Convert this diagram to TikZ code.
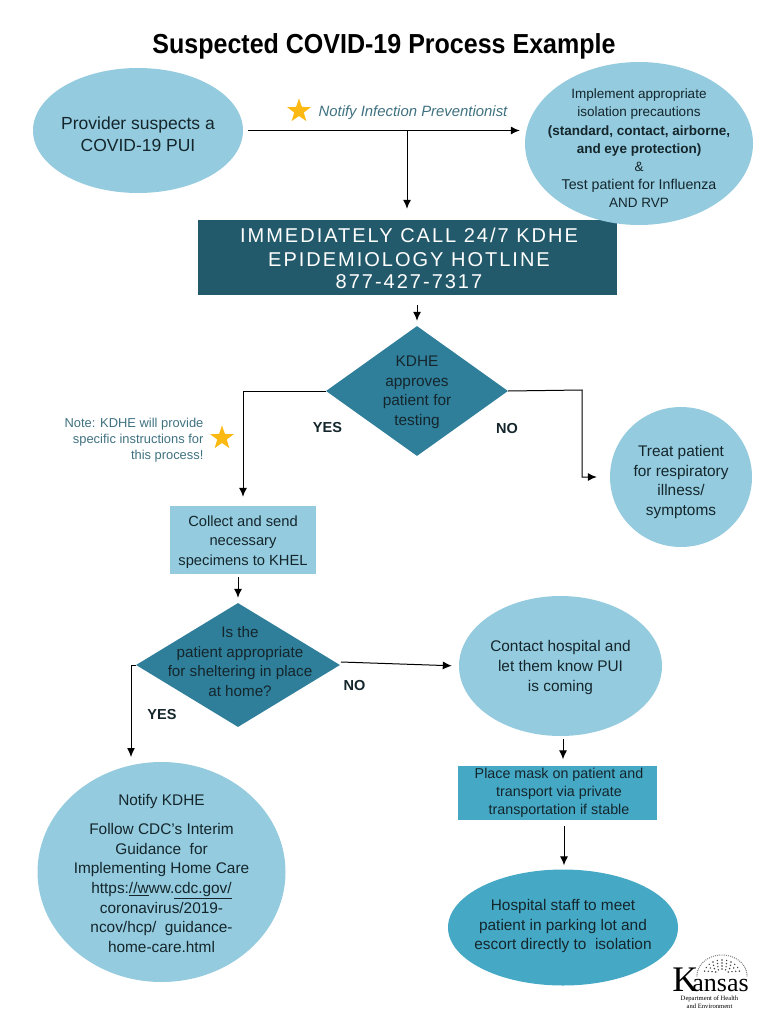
\documentclass[tikz,border=0pt]{standalone}
\usepackage{fontspec}
\setmainfont{Liberation Sans}
\newfontfamily\logofont{Liberation Serif}
\newfontfamily\condfont[FakeStretch=0.91]{Liberation Sans}
\usetikzlibrary{shapes.geometric,arrows.meta}
\definecolor{paleblue}{HTML}{94CBDE}
\definecolor{midblue}{HTML}{45A9C6}
\definecolor{tealdiam}{HTML}{2F7F9B}
\definecolor{hotline}{HTML}{235A6B}
\definecolor{notetext}{HTML}{3F7180}
\definecolor{ink}{HTML}{14262C}
\definecolor{stargold}{HTML}{FDB913}
\newcommand{\fs}[2]{\fontsize{#1}{#2}\selectfont}
\begin{document}
\begin{tikzpicture}[x=1pt,y=-1pt,
    every label/.style={align=center,text=ink},
    bubble/.style={ellipse,fill=paleblue,inner sep=0pt},
    block/.style={rectangle,fill=paleblue,inner sep=0pt},
    decide/.style={diamond,fill=tealdiam,inner sep=0pt},
    goldstar/.style={star,star points=5,star point ratio=2.5,fill=stargold,inner sep=0pt,minimum size=25},
    answer/.style={font=\fs{14.5}{17}\bfseries,text=ink},
    link/.style={-{Latex[length=9pt,width=8pt]},black,line width=1pt}]
    \useasboundingbox (0,0) rectangle (768,1024);

    \node (0) at (384,46) [font=\condfont\fs{27.5}{30}\bfseries,text=black]{Suspected COVID-19 Process Example};

    \node (3) at (407.5,257.5) [block,fill=hotline,minimum width=419,minimum height=75,
        label={[text=white,xshift=1.5pt,yshift=-0.5pt,font=\fs{20}{24}\addfontfeature{LetterSpace=10}]center:{IMMEDIATELY CALL 24/7 KDHE\\EPIDEMIOLOGY HOTLINE\\[-2pt]877-427-7317}}]{};
    \node (1) at (138,130.5) [bubble,minimum width=210,minimum height=125,
        label={[yshift=-3.5pt,font=\fs{17.5}{22}]center:{Provider suspects a\\COVID-19 PUI}}]{};
    \node (2) at (639,143.5) [bubble,minimum width=228,minimum height=163,
        label={[yshift=-5pt,font=\fs{13.5}{18.2}]center:{Implement appropriate\\isolation precautions\\{\bfseries(standard, contact, airborne,}\\{\bfseries and eye protection)}\\\&\\\fs{14.2}{18.2}Test patient for Influenza\\AND RVP}}]{};

    \node (s1) at (299,111) [goldstar]{};
    \node (n1) at (413,112.5) [font=\fs{14.9}{17}\itshape,text=notetext]{Notify Infection Preventionist};

    \node (4) at (417,391) [decide,minimum width=182,minimum height=130,
        label={[yshift=-1.5pt,font=\fs{15.4}{19.5}]center:{KDHE\\approves\\patient for\\testing}}]{};
    \node (y1) at (327.5,428) [answer]{YES};
    \node (m1) at (507,429) [answer]{NO};
    \node (n2) at (134,440) [font=\fs{12.9}{16},text=notetext,align=right,inner sep=0pt]{Note: KDHE will provide\\specific instructions for\\this process!};
    \node (s2) at (222,438) [goldstar]{};

    \node (5) at (681,477) [bubble,minimum width=142,minimum height=140,
        label={[yshift=-5pt,font=\fs{15.4}{19.7}]center:{Treat patient\\for respiratory\\illness/\\symptoms}}]{};
    \node (6) at (243,540) [block,minimum width=146,minimum height=68,
        label={[yshift=-2pt,font=\fs{14.7}{19.5}]center:{Collect and send\\necessary\\specimens to KHEL}}]{};

    \node (7) at (238,665) [decide,minimum width=204,minimum height=124,
        label={[xshift=2pt,yshift=3.5pt,font=\fs{15.2}{19.5}]center:{Is the\\patient appropriate\\for sheltering in place\\at home?}}]{};
    \node (y2) at (162,715) [answer]{YES};
    \node (m2) at (354.5,686) [answer]{NO};

    \node (8) at (560.5,666) [bubble,minimum width=203,minimum height=140,
        label={[yshift=-2pt,font=\fs{15.4}{20}]center:{Contact hospital and\\let them know PUI\\is coming}}]{};
    \node (9) at (557.5,792.5) [block,fill=midblue,minimum width=199,minimum height=54,
        label={[xshift=1.5pt,font=\fs{14.3}{18}]center:{Place mask on patient and\\transport via private\\transportation if stable}}]{};
    \node (10) at (563,927.5) [bubble,fill=midblue,minimum width=230,minimum height=116,
        label={[yshift=1pt,font=\fs{15.4}{19.5}]center:{Hospital staff to meet\\patient in parking lot and\\escort directly to\ \ isolation}}]{};

    \node (11) at (161.5,872) [bubble,minimum width=248,minimum height=220,
        label={[yshift=-1.5pt,font=\fs{15.4}{19.6}]center:{Notify KDHE\\[9.5pt]Follow CDC's Interim\\Guidance\ \ for\\Implementing Home Care\\https:\underline{//w}ww.\underline{cdc.gov/}\\coronavirus/2019-\\ncov/hcp/\ \ guidance-\\home-care.html}}]{};

    % connectors
    \coordinate (j1) at (407,131);
    \coordinate (e1) at (582,390);
    \coordinate (e2) at (131,665);
    \coordinate (e3) at (131,757);
    \coordinate (e4) at (563,736);
    \coordinate (e5) at (564,820);
    \coordinate (e6) at (341,662);

    \draw[link,shorten <=5pt,shorten >=5pt] (1.east) -- (1.east -| 2.west);
    \draw[link,shorten >=11pt] (j1) -- (j1 |- 3.north);
    \draw[link,shorten <=10pt,shorten >=5pt] (3.south -| 4.north) -- (4.north);

    \draw[link,shorten >=9pt] (4.west) -| (6.north);
    \draw[link,shorten >=13pt] (4.east) -- (e1) |- (5.west);

    \draw[link,shorten <=3pt,shorten >=5pt] (6.south -| 7.north) -- (7.north);
    \draw[link] (7.west) -- (e2) -- (e3);
    \draw[link,shorten >=7pt] (e6) -- (8.west);

    \draw[link,shorten <=3pt,shorten >=6pt] (e4) -- (e4 |- 9.north);
    \draw[link,shorten <=6pt,shorten >=4pt] (e5) -- (e5 |- 10.north);

    % logo
    \node (k1) at (710.5,979) [font=\logofont\fs{36}{36},text=black,inner sep=0pt,text height=24pt,text depth=0pt]{K\kern-6pt\fs{26}{26}ansas};
    \node (k2) at (709.5,1002.5) [font=\logofont\fs{6.6}{8},text=black,align=center,inner sep=0pt]{Department of Health\\and Environment};
    \foreach \r/\n in {6/5,9/7,12/9,15/11}{
      \foreach \i in {1,...,\n}{
        \pgfmathsetmacro{\a}{180*\i/(\n+1)}
        \fill[black!75] ({722+1.2*\r*cos(\a)},{975-\r*sin(\a)}) circle (0.8);
      }
    }
    \foreach \a in {0,5,...,180}{
      \fill[black!50] ({722+25*cos(\a)},{976-21*sin(\a)}) circle (0.7);
    }
\end{tikzpicture}
\end{document}
